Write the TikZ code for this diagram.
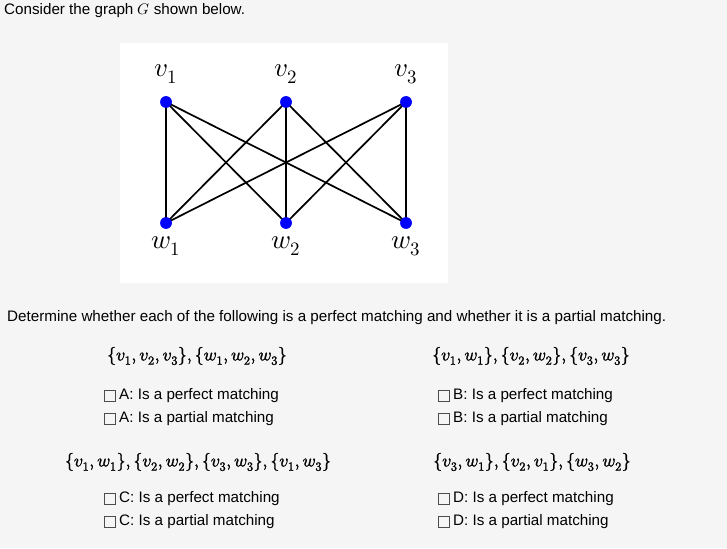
\documentclass[tikz,border=0pt]{standalone}
\usepackage{fontspec}
\setmainfont{Liberation Sans}
\usepackage{unicode-math}
\setmathfont{Latin Modern Math}[FakeBold=1.5]
\setmathfont{Latin Modern Math}[version=thin]
\begin{document}
\begin{tikzpicture}[x=1pt,y=-1pt,
  vert/.style={circle,fill=blue,inner sep=0pt,minimum size=11.5pt},
  lab/.style={font=\mathversion{thin}\fontsize{27}{29}\selectfont},
  txt/.style={font=\fontsize{15.2}{17}\selectfont,anchor=west,inner sep=0pt},
  mth/.style={font=\fontsize{17.8}{19}\selectfont,inner sep=0pt},
  cb/.style={draw=black!70,line width=0.6pt,minimum size=11pt,inner sep=0pt}]
\fill[black!4] (0,0) rectangle (727,548);
\useasboundingbox (0,0) rectangle (727,548);
\fill[white] (120,43) rectangle (448,283);
\node[txt] (t1) at (4,11) {Consider the graph {\mathversion{thin}$G$} shown below.};
\foreach \n/\x in {1/166,2/286,3/406}{
  \node[vert] (v\n) at (\x,102) {};
  \node[vert] (w\n) at (\x,223) {};
  \node[lab] (lv\n) at (\x,74) {$v_{\n}$};
  \node[lab] (lw\n) at (\x,246) {$w_{\n}$};
}
\foreach \a in {1,2,3}{\foreach \b in {1,2,3}{\draw[line width=1.7pt] (v\a.center) -- (w\b.center);}}
\foreach \a in {1,2,3}{\node[vert] at (v\a) {};\node[vert] at (w\a) {};}
\node[txt] (t2) at (7,318) {Determine whether each of the following is a perfect matching and whether it is a partial matching.};
\node[mth] (m1) at (197,356) {$\{v_1,v_2,v_3\},\{w_1,w_2,w_3\}$};
\node[mth] (m2) at (531,356) {$\{v_1,w_1\},\{v_2,w_2\},\{v_3,w_3\}$};
\node[mth] (m3) at (198,462) {$\{v_1,w_1\},\{v_2,w_2\},\{v_3,w_3\},\{v_1,w_3\}$};
\node[mth] (m4) at (532,462) {$\{v_3,w_1\},\{v_2,v_1\},\{w_3,w_2\}$};
\foreach \x/\y/\L in {110/396/A,110/419/A,444/396/B,444/419/B,110/499/C,110/522/C,444/499/D,444/522/D}{
  \node[cb] at (\x,\y) {};
}
\node[txt] at (119,396) {A: Is a perfect matching};
\node[txt] at (119,419) {A: Is a partial matching};
\node[txt] at (453,396) {B: Is a perfect matching};
\node[txt] at (453,419) {B: Is a partial matching};
\node[txt] at (119,499) {C: Is a perfect matching};
\node[txt] at (119,522) {C: Is a partial matching};
\node[txt] at (453,499) {D: Is a perfect matching};
\node[txt] at (453,522) {D: Is a partial matching};
\end{tikzpicture}
\end{document}
